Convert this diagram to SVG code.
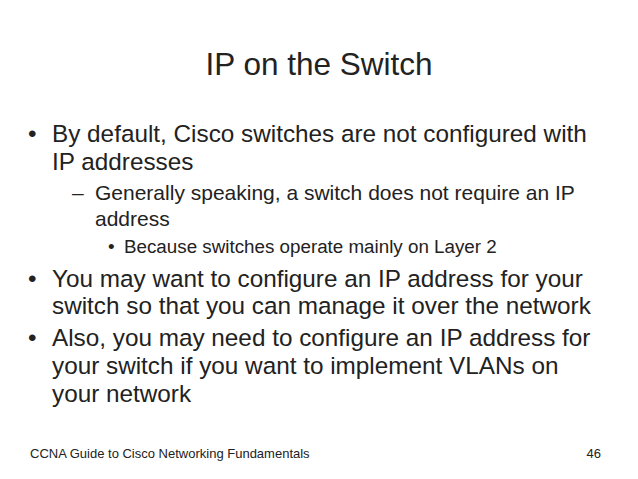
<svg xmlns="http://www.w3.org/2000/svg" width="638" height="479" viewBox="0 0 638 479">
<style>
text{font-family:"Liberation Sans",Arial,sans-serif;fill:#222}
.l1{font-size:24.3px}.l2{font-size:21px}.l3{font-size:18.8px}.f{font-size:13px}
</style>
<rect width="638" height="479" fill="#fff"/>
<text x="319" y="75" font-size="31.5" text-anchor="middle">IP on the Switch</text>
<text class="l1" x="28" y="142">•</text>
<text class="l1" x="52" y="142">By default, Cisco switches are not configured with</text>
<text class="l1" x="52" y="170">IP addresses</text>
<text class="l2" x="72" y="200">–</text>
<text class="l2" x="95" y="200">Generally speaking, a switch does not require an IP</text>
<text class="l2" x="95" y="226">address</text>
<text class="l3" x="108" y="253">•</text>
<text class="l3" x="124" y="253">Because switches operate mainly on Layer 2</text>
<text class="l1" x="28" y="287">•</text>
<text class="l1" x="52" y="287">You may want to configure an IP address for your</text>
<text class="l1" x="52" y="314">switch so that you can manage it over the network</text>
<text class="l1" x="28" y="346">•</text>
<text class="l1" x="52" y="346">Also, you may need to configure an IP address for</text>
<text class="l1" x="52" y="374">your switch if you want to implement VLANs on</text>
<text class="l1" x="52" y="402">your network</text>
<text class="f" x="30" y="458">CCNA Guide to Cisco Networking Fundamentals</text>
<text class="f" x="601" y="458" text-anchor="end">46</text>
</svg>
